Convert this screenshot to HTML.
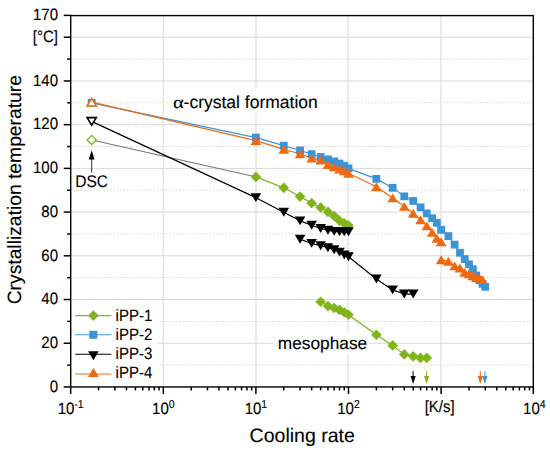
<!DOCTYPE html>
<html><head><meta charset="utf-8"><style>
html,body{margin:0;padding:0;background:#fff;}
body{width:550px;height:450px;overflow:hidden;}
svg{display:block;text-rendering:geometricPrecision;font-family:"Liberation Sans",sans-serif;fill:#000;}
text{fill:#000;stroke:#000;stroke-width:0.12px;}
</style></head><body>
<svg width="550" height="450" viewBox="0 0 550 450">
<line x1="70.7" y1="365.09" x2="533.3" y2="365.09" stroke="#d9d9d9" stroke-width="1" stroke-dasharray="1.6 1.7"/>
<line x1="70.7" y1="343.24" x2="533.3" y2="343.24" stroke="#d9d9d9" stroke-width="1"/>
<line x1="70.7" y1="321.38" x2="533.3" y2="321.38" stroke="#d9d9d9" stroke-width="1" stroke-dasharray="1.6 1.7"/>
<line x1="70.7" y1="299.52" x2="533.3" y2="299.52" stroke="#d9d9d9" stroke-width="1"/>
<line x1="70.7" y1="277.66" x2="533.3" y2="277.66" stroke="#d9d9d9" stroke-width="1" stroke-dasharray="1.6 1.7"/>
<line x1="70.7" y1="255.81" x2="533.3" y2="255.81" stroke="#d9d9d9" stroke-width="1"/>
<line x1="70.7" y1="233.95" x2="533.3" y2="233.95" stroke="#d9d9d9" stroke-width="1" stroke-dasharray="1.6 1.7"/>
<line x1="70.7" y1="212.09" x2="533.3" y2="212.09" stroke="#d9d9d9" stroke-width="1"/>
<line x1="70.7" y1="190.24" x2="533.3" y2="190.24" stroke="#d9d9d9" stroke-width="1" stroke-dasharray="1.6 1.7"/>
<line x1="70.7" y1="168.38" x2="533.3" y2="168.38" stroke="#d9d9d9" stroke-width="1"/>
<line x1="70.7" y1="146.52" x2="533.3" y2="146.52" stroke="#d9d9d9" stroke-width="1" stroke-dasharray="1.6 1.7"/>
<line x1="70.7" y1="124.67" x2="533.3" y2="124.67" stroke="#d9d9d9" stroke-width="1"/>
<line x1="70.7" y1="102.81" x2="533.3" y2="102.81" stroke="#d9d9d9" stroke-width="1" stroke-dasharray="1.6 1.7"/>
<line x1="70.7" y1="80.95" x2="533.3" y2="80.95" stroke="#d9d9d9" stroke-width="1"/>
<line x1="70.7" y1="59.09" x2="533.3" y2="59.09" stroke="#d9d9d9" stroke-width="1" stroke-dasharray="1.6 1.7"/>
<line x1="70.7" y1="37.24" x2="533.3" y2="37.24" stroke="#d9d9d9" stroke-width="1"/>
<line x1="163.2" y1="15.6" x2="163.2" y2="386.95" stroke="#d9d9d9" stroke-width="1"/>
<line x1="256.0" y1="15.6" x2="256.0" y2="386.95" stroke="#d9d9d9" stroke-width="1"/>
<line x1="347.9" y1="15.6" x2="347.9" y2="386.95" stroke="#d9d9d9" stroke-width="1"/>
<line x1="441.0" y1="15.6" x2="441.0" y2="386.95" stroke="#d9d9d9" stroke-width="1"/>
<rect x="168" y="87.5" width="151" height="25.5" fill="#fff"/>
<rect x="274" y="332" width="95" height="22.5" fill="#fff"/>
<rect x="71.7" y="305" width="86" height="80.94999999999999" fill="#fff"/>
<path d="M91.68,139.97L255.90,176.90" fill="none" stroke="#707070" stroke-width="1.0"/>
<path d="M91.68,121.39L255.90,197.67" fill="none" stroke="#000000" stroke-width="1.3"/>
<path d="M91.68,102.81L255.90,137.56" fill="none" stroke="#3d94d4" stroke-width="1.3"/>
<path d="M91.68,102.15L255.90,140.62" fill="none" stroke="#f0690e" stroke-width="1.3"/>
<path d="M255.90,176.90L283.78,187.83M283.78,187.83L300.08,196.58M300.08,196.58L311.65,203.13M311.65,203.13L320.62,207.50M320.62,207.50L327.96,211.88M327.96,211.88L334.16,216.03M334.16,216.03L339.53,220.84M339.53,220.84L344.26,223.24M344.26,223.24L348.50,225.43" fill="none" stroke="#80b41a" stroke-width="1.2"/>
<path d="M320.62,301.71L327.96,306.08M327.96,306.08L334.16,308.05M334.16,308.05L339.53,310.01M339.53,310.01L344.26,312.20M344.26,312.20L348.50,314.82M348.50,314.82L376.38,334.71M376.38,334.71L392.68,345.42M392.68,345.42L404.25,354.38M404.25,354.38L413.22,356.35M413.22,356.35L420.56,357.88M420.56,357.88L426.76,357.88" fill="none" stroke="#80b41a" stroke-width="1.2"/>
<path d="M255.90,197.67L283.78,212.31M283.78,212.31L300.08,220.84M300.08,220.84L311.65,225.21M311.65,225.21L320.62,228.49M320.62,228.49L327.96,230.24M327.96,230.24L334.16,231.33M334.16,231.33L339.53,231.77M339.53,231.77L344.26,231.77M344.26,231.77L348.50,231.77" fill="none" stroke="#000000" stroke-width="1.2"/>
<path d="M300.08,239.20L311.65,243.35M311.65,243.35L320.62,245.75M320.62,245.75L327.96,247.72M327.96,247.72L334.16,249.69M334.16,249.69L339.53,252.09M339.53,252.09L344.26,254.93M344.26,254.93L348.50,256.68M348.50,256.68L376.38,278.98M376.38,278.98L392.68,289.90M392.68,289.90L404.25,294.06M404.25,294.06L413.22,294.06" fill="none" stroke="#000000" stroke-width="1.2"/>
<path d="M255.90,137.56L283.78,145.65M283.78,145.65L300.08,150.46M300.08,150.46L311.65,154.17M311.65,154.17L320.62,157.01M320.62,157.01L327.96,159.42M327.96,159.42L334.16,161.39M334.16,161.39L339.53,163.57M339.53,163.57L344.26,165.76M344.26,165.76L348.50,168.38M348.50,168.38L376.38,178.87M376.38,178.87L392.68,187.83M392.68,187.83L404.25,196.36M404.25,196.36L413.22,200.95M413.22,200.95L420.56,207.29M420.56,207.29L426.76,213.41M426.76,213.41L432.13,218.21M432.13,218.21L436.86,222.80M436.86,222.80L441.10,229.80M441.10,229.80L448.43,236.14M448.43,236.14L454.63,244.66M454.63,244.66L460.00,252.75M460.00,252.75L464.74,259.09M464.74,259.09L468.98,264.33M468.98,264.33L472.81,269.36M472.81,269.36L476.31,275.48M476.31,275.48L479.53,280.29M479.53,280.29L482.51,283.78M482.51,283.78L485.28,286.84" fill="none" stroke="#3d94d4" stroke-width="1.2"/>
<path d="M255.90,140.62L283.78,149.36M283.78,149.36L300.08,153.74M300.08,153.74L311.65,158.11M311.65,158.11L320.62,160.07M320.62,160.07L327.96,164.45M327.96,164.45L334.16,166.85M334.16,166.85L339.53,169.04M339.53,169.04L344.26,170.78M344.26,170.78L348.50,173.19M348.50,173.19L376.38,186.74M376.38,186.74L392.68,197.89M392.68,197.89L404.25,206.41M404.25,206.41L413.22,213.19M413.22,213.19L420.56,219.74M420.56,219.74L426.76,225.86M426.76,225.86L432.13,232.42M432.13,232.42L436.86,238.32M436.86,238.32L441.10,241.82" fill="none" stroke="#f0690e" stroke-width="1.2"/>
<path d="M441.10,259.74L448.43,261.27M448.43,261.27L454.63,265.86M454.63,265.86L460.00,268.05M460.00,268.05L464.74,272.42M464.74,272.42L468.98,273.73M468.98,273.73L472.81,275.70M472.81,275.70L476.31,277.45M476.31,277.45L479.53,278.10M479.53,278.10L482.51,279.63" fill="none" stroke="#f0690e" stroke-width="1.2"/>
<polygon points="255.90,171.60 261.20,176.90 255.90,182.20 250.60,176.90" fill="#80b41a"/>
<polygon points="283.78,182.53 289.08,187.83 283.78,193.13 278.48,187.83" fill="#80b41a"/>
<polygon points="300.08,191.28 305.38,196.58 300.08,201.88 294.78,196.58" fill="#80b41a"/>
<polygon points="311.65,197.83 316.95,203.13 311.65,208.43 306.35,203.13" fill="#80b41a"/>
<polygon points="320.62,202.20 325.92,207.50 320.62,212.80 315.32,207.50" fill="#80b41a"/>
<polygon points="327.96,206.58 333.26,211.88 327.96,217.18 322.66,211.88" fill="#80b41a"/>
<polygon points="334.16,210.73 339.46,216.03 334.16,221.33 328.86,216.03" fill="#80b41a"/>
<polygon points="339.53,215.54 344.83,220.84 339.53,226.14 334.23,220.84" fill="#80b41a"/>
<polygon points="344.26,217.94 349.56,223.24 344.26,228.54 338.96,223.24" fill="#80b41a"/>
<polygon points="348.50,220.13 353.80,225.43 348.50,230.73 343.20,225.43" fill="#80b41a"/>
<polygon points="320.62,296.41 325.92,301.71 320.62,307.01 315.32,301.71" fill="#80b41a"/>
<polygon points="327.96,300.78 333.26,306.08 327.96,311.38 322.66,306.08" fill="#80b41a"/>
<polygon points="334.16,302.75 339.46,308.05 334.16,313.35 328.86,308.05" fill="#80b41a"/>
<polygon points="339.53,304.71 344.83,310.01 339.53,315.31 334.23,310.01" fill="#80b41a"/>
<polygon points="344.26,306.90 349.56,312.20 344.26,317.50 338.96,312.20" fill="#80b41a"/>
<polygon points="348.50,309.52 353.80,314.82 348.50,320.12 343.20,314.82" fill="#80b41a"/>
<polygon points="376.38,329.41 381.68,334.71 376.38,340.01 371.08,334.71" fill="#80b41a"/>
<polygon points="392.68,340.12 397.98,345.42 392.68,350.72 387.38,345.42" fill="#80b41a"/>
<polygon points="404.25,349.08 409.55,354.38 404.25,359.68 398.95,354.38" fill="#80b41a"/>
<polygon points="413.22,351.05 418.52,356.35 413.22,361.65 407.92,356.35" fill="#80b41a"/>
<polygon points="420.56,352.58 425.86,357.88 420.56,363.18 415.26,357.88" fill="#80b41a"/>
<polygon points="426.76,352.58 432.06,357.88 426.76,363.18 421.46,357.88" fill="#80b41a"/>
<polygon points="250.60,193.22 261.20,193.22 255.90,202.12" fill="#000000"/>
<polygon points="278.48,207.86 289.08,207.86 283.78,216.76" fill="#000000"/>
<polygon points="294.78,216.39 305.38,216.39 300.08,225.29" fill="#000000"/>
<polygon points="306.35,220.76 316.95,220.76 311.65,229.66" fill="#000000"/>
<polygon points="315.32,224.04 325.92,224.04 320.62,232.94" fill="#000000"/>
<polygon points="322.66,225.79 333.26,225.79 327.96,234.69" fill="#000000"/>
<polygon points="328.86,226.88 339.46,226.88 334.16,235.78" fill="#000000"/>
<polygon points="334.23,227.32 344.83,227.32 339.53,236.22" fill="#000000"/>
<polygon points="338.96,227.32 349.56,227.32 344.26,236.22" fill="#000000"/>
<polygon points="343.20,227.32 353.80,227.32 348.50,236.22" fill="#000000"/>
<polygon points="294.78,234.75 305.38,234.75 300.08,243.65" fill="#000000"/>
<polygon points="306.35,238.90 316.95,238.90 311.65,247.80" fill="#000000"/>
<polygon points="315.32,241.30 325.92,241.30 320.62,250.20" fill="#000000"/>
<polygon points="322.66,243.27 333.26,243.27 327.96,252.17" fill="#000000"/>
<polygon points="328.86,245.24 339.46,245.24 334.16,254.14" fill="#000000"/>
<polygon points="334.23,247.64 344.83,247.64 339.53,256.54" fill="#000000"/>
<polygon points="338.96,250.48 349.56,250.48 344.26,259.38" fill="#000000"/>
<polygon points="343.20,252.23 353.80,252.23 348.50,261.13" fill="#000000"/>
<polygon points="371.08,274.53 381.68,274.53 376.38,283.43" fill="#000000"/>
<polygon points="387.38,285.45 397.98,285.45 392.68,294.35" fill="#000000"/>
<polygon points="398.95,289.61 409.55,289.61 404.25,298.51" fill="#000000"/>
<polygon points="407.92,289.61 418.52,289.61 413.22,298.51" fill="#000000"/>
<rect x="252.00" y="133.66" width="7.8" height="7.8" fill="#3d94d4"/>
<rect x="279.88" y="141.75" width="7.8" height="7.8" fill="#3d94d4"/>
<rect x="296.18" y="146.56" width="7.8" height="7.8" fill="#3d94d4"/>
<rect x="307.75" y="150.27" width="7.8" height="7.8" fill="#3d94d4"/>
<rect x="316.72" y="153.11" width="7.8" height="7.8" fill="#3d94d4"/>
<rect x="324.06" y="155.52" width="7.8" height="7.8" fill="#3d94d4"/>
<rect x="330.26" y="157.49" width="7.8" height="7.8" fill="#3d94d4"/>
<rect x="335.63" y="159.67" width="7.8" height="7.8" fill="#3d94d4"/>
<rect x="340.36" y="161.86" width="7.8" height="7.8" fill="#3d94d4"/>
<rect x="344.60" y="164.48" width="7.8" height="7.8" fill="#3d94d4"/>
<rect x="372.48" y="174.97" width="7.8" height="7.8" fill="#3d94d4"/>
<rect x="388.78" y="183.93" width="7.8" height="7.8" fill="#3d94d4"/>
<rect x="400.35" y="192.46" width="7.8" height="7.8" fill="#3d94d4"/>
<rect x="409.32" y="197.05" width="7.8" height="7.8" fill="#3d94d4"/>
<rect x="416.66" y="203.39" width="7.8" height="7.8" fill="#3d94d4"/>
<rect x="422.86" y="209.51" width="7.8" height="7.8" fill="#3d94d4"/>
<rect x="428.23" y="214.31" width="7.8" height="7.8" fill="#3d94d4"/>
<rect x="432.96" y="218.90" width="7.8" height="7.8" fill="#3d94d4"/>
<rect x="437.20" y="225.90" width="7.8" height="7.8" fill="#3d94d4"/>
<rect x="444.53" y="232.24" width="7.8" height="7.8" fill="#3d94d4"/>
<rect x="450.73" y="240.76" width="7.8" height="7.8" fill="#3d94d4"/>
<rect x="456.10" y="248.85" width="7.8" height="7.8" fill="#3d94d4"/>
<rect x="460.84" y="255.19" width="7.8" height="7.8" fill="#3d94d4"/>
<rect x="465.08" y="260.43" width="7.8" height="7.8" fill="#3d94d4"/>
<rect x="468.91" y="265.46" width="7.8" height="7.8" fill="#3d94d4"/>
<rect x="472.41" y="271.58" width="7.8" height="7.8" fill="#3d94d4"/>
<rect x="475.63" y="276.39" width="7.8" height="7.8" fill="#3d94d4"/>
<rect x="478.61" y="279.88" width="7.8" height="7.8" fill="#3d94d4"/>
<rect x="481.38" y="282.94" width="7.8" height="7.8" fill="#3d94d4"/>
<polygon points="255.90,136.17 261.20,145.07 250.60,145.07" fill="#f0690e"/>
<polygon points="283.78,144.91 289.08,153.81 278.48,153.81" fill="#f0690e"/>
<polygon points="300.08,149.29 305.38,158.19 294.78,158.19" fill="#f0690e"/>
<polygon points="311.65,153.66 316.95,162.56 306.35,162.56" fill="#f0690e"/>
<polygon points="320.62,155.62 325.92,164.52 315.32,164.52" fill="#f0690e"/>
<polygon points="327.96,160.00 333.26,168.90 322.66,168.90" fill="#f0690e"/>
<polygon points="334.16,162.40 339.46,171.30 328.86,171.30" fill="#f0690e"/>
<polygon points="339.53,164.59 344.83,173.49 334.23,173.49" fill="#f0690e"/>
<polygon points="344.26,166.33 349.56,175.23 338.96,175.23" fill="#f0690e"/>
<polygon points="348.50,168.74 353.80,177.64 343.20,177.64" fill="#f0690e"/>
<polygon points="376.38,182.29 381.68,191.19 371.08,191.19" fill="#f0690e"/>
<polygon points="392.68,193.44 397.98,202.34 387.38,202.34" fill="#f0690e"/>
<polygon points="404.25,201.96 409.55,210.86 398.95,210.86" fill="#f0690e"/>
<polygon points="413.22,208.74 418.52,217.64 407.92,217.64" fill="#f0690e"/>
<polygon points="420.56,215.29 425.86,224.19 415.26,224.19" fill="#f0690e"/>
<polygon points="426.76,221.41 432.06,230.31 421.46,230.31" fill="#f0690e"/>
<polygon points="432.13,227.97 437.43,236.87 426.83,236.87" fill="#f0690e"/>
<polygon points="436.86,233.87 442.16,242.77 431.56,242.77" fill="#f0690e"/>
<polygon points="441.10,237.37 446.40,246.27 435.80,246.27" fill="#f0690e"/>
<polygon points="441.10,255.29 446.40,264.19 435.80,264.19" fill="#f0690e"/>
<polygon points="448.43,256.82 453.73,265.72 443.13,265.72" fill="#f0690e"/>
<polygon points="454.63,261.41 459.93,270.31 449.33,270.31" fill="#f0690e"/>
<polygon points="460.00,263.60 465.30,272.50 454.70,272.50" fill="#f0690e"/>
<polygon points="464.74,267.97 470.04,276.87 459.44,276.87" fill="#f0690e"/>
<polygon points="468.98,269.28 474.28,278.18 463.68,278.18" fill="#f0690e"/>
<polygon points="472.81,271.25 478.11,280.15 467.51,280.15" fill="#f0690e"/>
<polygon points="476.31,273.00 481.61,281.90 471.01,281.90" fill="#f0690e"/>
<polygon points="479.53,273.65 484.83,282.55 474.23,282.55" fill="#f0690e"/>
<polygon points="482.51,275.18 487.81,284.08 477.21,284.08" fill="#f0690e"/>
<rect x="87.78" y="98.91" width="7.8" height="7.8" fill="#3d94d4"/>
<polygon points="91.68,98.35 96.28,105.95 87.08,105.95" fill="#fff" stroke="#f0690e" stroke-width="1.6" stroke-linejoin="miter"/>
<polygon points="87.08,117.59 96.28,117.59 91.68,125.19" fill="#fff" stroke="#000000" stroke-width="1.6" stroke-linejoin="miter"/>
<polygon points="91.68,135.37 96.28,139.97 91.68,144.57 87.08,139.97" fill="#fff" stroke="#80b41a" stroke-width="1.3"/>
<line x1="91.68" y1="172.6" x2="91.68" y2="158" stroke="#333" stroke-width="1"/>
<polygon points="91.68,150.2 94.58,159.6 88.78,159.6" fill="#000"/>
<line x1="413.1" y1="371" x2="413.1" y2="377" stroke="#000000" stroke-width="1"/><polygon points="410.5,376 415.70000000000005,376 413.1,384" fill="#000000"/>
<line x1="426.6" y1="371" x2="426.6" y2="377" stroke="#80b41a" stroke-width="1"/><polygon points="424.0,376 429.20000000000005,376 426.6,384" fill="#80b41a"/>
<line x1="480.3" y1="371" x2="480.3" y2="377" stroke="#f0690e" stroke-width="1"/><polygon points="477.7,376 482.90000000000003,376 480.3,384" fill="#f0690e"/>
<line x1="484.9" y1="371" x2="484.9" y2="377" stroke="#3d94d4" stroke-width="1"/><polygon points="482.29999999999995,376 487.5,376 484.9,384" fill="#3d94d4"/>
<rect x="70.7" y="15.6" width="462.59999999999997" height="371.34999999999997" fill="none" stroke="#000" stroke-width="1.4"/>
<line x1="63.7" y1="386.95" x2="70.7" y2="386.95" stroke="#000" stroke-width="1.5"/>
<line x1="67.2" y1="365.09" x2="70.7" y2="365.09" stroke="#000" stroke-width="1.5"/>
<line x1="63.7" y1="343.24" x2="70.7" y2="343.24" stroke="#000" stroke-width="1.5"/>
<line x1="67.2" y1="321.38" x2="70.7" y2="321.38" stroke="#000" stroke-width="1.5"/>
<line x1="63.7" y1="299.52" x2="70.7" y2="299.52" stroke="#000" stroke-width="1.5"/>
<line x1="67.2" y1="277.66" x2="70.7" y2="277.66" stroke="#000" stroke-width="1.5"/>
<line x1="63.7" y1="255.81" x2="70.7" y2="255.81" stroke="#000" stroke-width="1.5"/>
<line x1="67.2" y1="233.95" x2="70.7" y2="233.95" stroke="#000" stroke-width="1.5"/>
<line x1="63.7" y1="212.09" x2="70.7" y2="212.09" stroke="#000" stroke-width="1.5"/>
<line x1="67.2" y1="190.24" x2="70.7" y2="190.24" stroke="#000" stroke-width="1.5"/>
<line x1="63.7" y1="168.38" x2="70.7" y2="168.38" stroke="#000" stroke-width="1.5"/>
<line x1="67.2" y1="146.52" x2="70.7" y2="146.52" stroke="#000" stroke-width="1.5"/>
<line x1="63.7" y1="124.67" x2="70.7" y2="124.67" stroke="#000" stroke-width="1.5"/>
<line x1="67.2" y1="102.81" x2="70.7" y2="102.81" stroke="#000" stroke-width="1.5"/>
<line x1="63.7" y1="80.95" x2="70.7" y2="80.95" stroke="#000" stroke-width="1.5"/>
<line x1="67.2" y1="59.09" x2="70.7" y2="59.09" stroke="#000" stroke-width="1.5"/>
<line x1="63.7" y1="37.24" x2="70.7" y2="37.24" stroke="#000" stroke-width="1.5"/>
<line x1="63.7" y1="15.38" x2="70.7" y2="15.38" stroke="#000" stroke-width="1.5"/>
<line x1="70.70" y1="386.95" x2="70.70" y2="393.95" stroke="#000" stroke-width="1.5"/>
<line x1="98.58" y1="386.95" x2="98.58" y2="390.45" stroke="#000" stroke-width="1.5"/>
<line x1="114.88" y1="386.95" x2="114.88" y2="390.45" stroke="#000" stroke-width="1.5"/>
<line x1="126.45" y1="386.95" x2="126.45" y2="390.45" stroke="#000" stroke-width="1.5"/>
<line x1="135.42" y1="386.95" x2="135.42" y2="390.45" stroke="#000" stroke-width="1.5"/>
<line x1="142.76" y1="386.95" x2="142.76" y2="390.45" stroke="#000" stroke-width="1.5"/>
<line x1="148.96" y1="386.95" x2="148.96" y2="390.45" stroke="#000" stroke-width="1.5"/>
<line x1="154.33" y1="386.95" x2="154.33" y2="390.45" stroke="#000" stroke-width="1.5"/>
<line x1="159.06" y1="386.95" x2="159.06" y2="390.45" stroke="#000" stroke-width="1.5"/>
<line x1="163.30" y1="386.95" x2="163.30" y2="393.95" stroke="#000" stroke-width="1.5"/>
<line x1="191.18" y1="386.95" x2="191.18" y2="390.45" stroke="#000" stroke-width="1.5"/>
<line x1="207.48" y1="386.95" x2="207.48" y2="390.45" stroke="#000" stroke-width="1.5"/>
<line x1="219.05" y1="386.95" x2="219.05" y2="390.45" stroke="#000" stroke-width="1.5"/>
<line x1="228.02" y1="386.95" x2="228.02" y2="390.45" stroke="#000" stroke-width="1.5"/>
<line x1="235.36" y1="386.95" x2="235.36" y2="390.45" stroke="#000" stroke-width="1.5"/>
<line x1="241.56" y1="386.95" x2="241.56" y2="390.45" stroke="#000" stroke-width="1.5"/>
<line x1="246.93" y1="386.95" x2="246.93" y2="390.45" stroke="#000" stroke-width="1.5"/>
<line x1="251.66" y1="386.95" x2="251.66" y2="390.45" stroke="#000" stroke-width="1.5"/>
<line x1="255.90" y1="386.95" x2="255.90" y2="393.95" stroke="#000" stroke-width="1.5"/>
<line x1="283.78" y1="386.95" x2="283.78" y2="390.45" stroke="#000" stroke-width="1.5"/>
<line x1="300.08" y1="386.95" x2="300.08" y2="390.45" stroke="#000" stroke-width="1.5"/>
<line x1="311.65" y1="386.95" x2="311.65" y2="390.45" stroke="#000" stroke-width="1.5"/>
<line x1="320.62" y1="386.95" x2="320.62" y2="390.45" stroke="#000" stroke-width="1.5"/>
<line x1="327.96" y1="386.95" x2="327.96" y2="390.45" stroke="#000" stroke-width="1.5"/>
<line x1="334.16" y1="386.95" x2="334.16" y2="390.45" stroke="#000" stroke-width="1.5"/>
<line x1="339.53" y1="386.95" x2="339.53" y2="390.45" stroke="#000" stroke-width="1.5"/>
<line x1="344.26" y1="386.95" x2="344.26" y2="390.45" stroke="#000" stroke-width="1.5"/>
<line x1="348.50" y1="386.95" x2="348.50" y2="393.95" stroke="#000" stroke-width="1.5"/>
<line x1="376.38" y1="386.95" x2="376.38" y2="390.45" stroke="#000" stroke-width="1.5"/>
<line x1="392.68" y1="386.95" x2="392.68" y2="390.45" stroke="#000" stroke-width="1.5"/>
<line x1="404.25" y1="386.95" x2="404.25" y2="390.45" stroke="#000" stroke-width="1.5"/>
<line x1="413.22" y1="386.95" x2="413.22" y2="390.45" stroke="#000" stroke-width="1.5"/>
<line x1="420.56" y1="386.95" x2="420.56" y2="390.45" stroke="#000" stroke-width="1.5"/>
<line x1="426.76" y1="386.95" x2="426.76" y2="390.45" stroke="#000" stroke-width="1.5"/>
<line x1="432.13" y1="386.95" x2="432.13" y2="390.45" stroke="#000" stroke-width="1.5"/>
<line x1="436.86" y1="386.95" x2="436.86" y2="390.45" stroke="#000" stroke-width="1.5"/>
<line x1="441.10" y1="386.95" x2="441.10" y2="393.95" stroke="#000" stroke-width="1.5"/>
<line x1="468.98" y1="386.95" x2="468.98" y2="390.45" stroke="#000" stroke-width="1.5"/>
<line x1="485.28" y1="386.95" x2="485.28" y2="390.45" stroke="#000" stroke-width="1.5"/>
<line x1="496.85" y1="386.95" x2="496.85" y2="390.45" stroke="#000" stroke-width="1.5"/>
<line x1="505.82" y1="386.95" x2="505.82" y2="390.45" stroke="#000" stroke-width="1.5"/>
<line x1="513.16" y1="386.95" x2="513.16" y2="390.45" stroke="#000" stroke-width="1.5"/>
<line x1="519.36" y1="386.95" x2="519.36" y2="390.45" stroke="#000" stroke-width="1.5"/>
<line x1="524.73" y1="386.95" x2="524.73" y2="390.45" stroke="#000" stroke-width="1.5"/>
<line x1="529.46" y1="386.95" x2="529.46" y2="390.45" stroke="#000" stroke-width="1.5"/>
<line x1="533.3" y1="386.95" x2="533.3" y2="393.95" stroke="#000" stroke-width="1.5"/>
<text transform="translate(58,20.08) scale(1,1.09)" text-anchor="end" font-size="15">170</text>
<text transform="translate(58,41.94) scale(1,1.09)" text-anchor="end" font-size="15">[°C]</text>
<text transform="translate(58,85.65) scale(1,1.09)" text-anchor="end" font-size="15">140</text>
<text transform="translate(58,129.37) scale(1,1.09)" text-anchor="end" font-size="15">120</text>
<text transform="translate(58,173.08) scale(1,1.09)" text-anchor="end" font-size="15">100</text>
<text transform="translate(58,216.79) scale(1,1.09)" text-anchor="end" font-size="15">80</text>
<text transform="translate(58,260.51) scale(1,1.09)" text-anchor="end" font-size="15">60</text>
<text transform="translate(58,304.22) scale(1,1.09)" text-anchor="end" font-size="15">40</text>
<text transform="translate(58,347.94) scale(1,1.09)" text-anchor="end" font-size="15">20</text>
<text transform="translate(58,391.65) scale(1,1.09)" text-anchor="end" font-size="15">0</text>
<text transform="translate(70.70,414.2) scale(1,1.09)" text-anchor="middle" font-size="15">10<tspan font-size="10.5" dy="-6.0">-1</tspan></text>
<text transform="translate(163.30,414.2) scale(1,1.09)" text-anchor="middle" font-size="15">10<tspan font-size="10.5" dy="-6.0">0</tspan></text>
<text transform="translate(255.90,414.2) scale(1,1.09)" text-anchor="middle" font-size="15">10<tspan font-size="10.5" dy="-6.0">1</tspan></text>
<text transform="translate(348.50,414.2) scale(1,1.09)" text-anchor="middle" font-size="15">10<tspan font-size="10.5" dy="-6.0">2</tspan></text>
<text transform="translate(534.30,414.2) scale(1,1.09)" text-anchor="middle" font-size="15">10<tspan font-size="10.5" dy="-6.0">4</tspan></text>
<text transform="translate(439.70,411.8) scale(1,1.09)" text-anchor="middle" font-size="15">[K/s]</text>
<text x="302.2" y="442.4" text-anchor="middle" font-size="19.5">Cooling rate</text>
<text transform="translate(21.2,189.7) rotate(-90)" text-anchor="middle" font-size="19.3">Crystallization temperature</text>
<text transform="translate(173.0,107.8) scale(1.17,1)" font-size="17.6" font-family="Liberation Serif">α</text>
<text x="183.6" y="107.8" font-size="17.5">-crystal formation</text>
<text x="277.8" y="348.6" font-size="17.3">mesophase</text>
<text transform="translate(75.3,186.6) scale(1,1.09)" font-size="15.5">DSC</text>
<line x1="75.3" y1="315.6" x2="111.3" y2="315.6" stroke="#80b41a" stroke-width="1.1"/>
<polygon points="93.40,310.30 98.70,315.60 93.40,320.90 88.10,315.60" fill="#80b41a"/>
<text transform="translate(115.6,320.90) scale(1,1.09)" font-size="15">iPP-1</text>
<line x1="75.3" y1="334.8" x2="111.3" y2="334.8" stroke="#3d94d4" stroke-width="1.1"/>
<rect x="89.30" y="330.80" width="8.0" height="8.0" fill="#3d94d4"/>
<text transform="translate(115.6,340.10) scale(1,1.09)" font-size="15">iPP-2</text>
<line x1="75.3" y1="354.2" x2="111.3" y2="354.2" stroke="#000000" stroke-width="1.1"/>
<polygon points="88.10,351.23 98.70,351.23 93.40,360.13" fill="#000000"/>
<text transform="translate(115.6,359.10) scale(1,1.09)" font-size="15">iPP-3</text>
<line x1="75.3" y1="374.0" x2="111.3" y2="374.0" stroke="#f0690e" stroke-width="1.1"/>
<polygon points="93.40,368.07 98.70,376.97 88.10,376.97" fill="#f0690e"/>
<text transform="translate(115.6,378.30) scale(1,1.09)" font-size="15">iPP-4</text>
</svg>
</body></html>
